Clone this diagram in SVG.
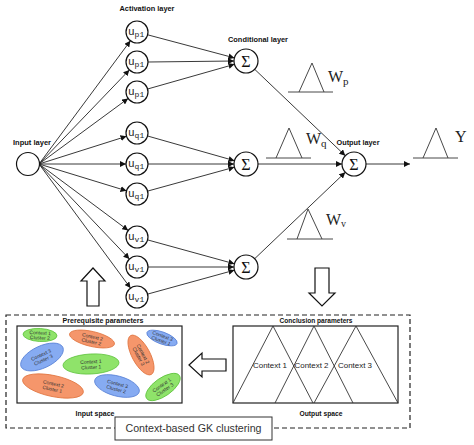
<svg xmlns="http://www.w3.org/2000/svg" width="474" height="445" viewBox="0 0 474 445">
<defs>
<marker id="ah" markerUnits="userSpaceOnUse" markerWidth="7" markerHeight="6" refX="6" refY="3" orient="auto">
<path d="M0,0 L6,3 L0,6 Z" fill="#111"/>
</marker>
<style>
.nd{fill:#fff;stroke:#111;stroke-width:1.2}
.cn{stroke:#222;stroke-width:0.9;fill:none}
.lbl{font-family:"Liberation Sans",Arial,sans-serif;font-weight:bold;font-size:7.5px;fill:#111}
.ctx{font-family:"Liberation Sans",Arial,sans-serif;font-size:7.5px;fill:#222}
.u{font-family:"Liberation Mono","DejaVu Sans Mono",monospace;font-size:11px;fill:#222}
.us{font-size:8px}
.sig{font-family:"Liberation Serif","DejaVu Serif",serif;font-size:16px;fill:#111}
.w{font-family:"Liberation Serif","DejaVu Serif",serif;font-size:16px;fill:#222}
.tri{fill:none;stroke:#333;stroke-width:0.9}
.blk{fill:#fff;stroke:#111;stroke-width:1.2}
.eg{fill:#8fe36a;stroke:#5cc23a;stroke-width:0.8}
.eo{fill:#f5966b;stroke:#e0743f;stroke-width:0.8}
.eb{fill:#86abf2;stroke:#5a82d6;stroke-width:0.8}
.et{font-family:"Liberation Sans",Arial,sans-serif;font-size:5px;fill:#333;text-anchor:middle}
</style>
</defs>
<rect width="474" height="445" fill="#fff"/>

<!-- connectors -->
<g id="connectors" class="cn">
<line x1="39" y1="164" x2="130.4" y2="40.8" marker-end="url(#ah)"/>
<line x1="39" y1="164" x2="129.4" y2="69.9" marker-end="url(#ah)"/>
<line x1="39" y1="164" x2="128.1" y2="98.5" marker-end="url(#ah)"/>
<line x1="39" y1="164" x2="126.5" y2="136.3" marker-end="url(#ah)"/>
<line x1="39" y1="164" x2="126" y2="164" marker-end="url(#ah)"/>
<line x1="39" y1="164" x2="126.5" y2="190.8" marker-end="url(#ah)"/>
<line x1="39" y1="164" x2="128.2" y2="230.4" marker-end="url(#ah)"/>
<line x1="39" y1="164" x2="129.4" y2="259" marker-end="url(#ah)"/>
<line x1="39" y1="164" x2="130.5" y2="288.1" marker-end="url(#ah)"/>
<line x1="147.6" y1="34.8" x2="234.4" y2="57.9" marker-end="url(#ah)"/>
<line x1="148" y1="62" x2="234" y2="61" marker-end="url(#ah)"/>
<line x1="147.6" y1="89" x2="234.5" y2="64.3" marker-end="url(#ah)"/>
<line x1="147.6" y1="136" x2="234.5" y2="160.7" marker-end="url(#ah)"/>
<line x1="148" y1="164" x2="234" y2="164" marker-end="url(#ah)"/>
<line x1="147.6" y1="191.1" x2="234.4" y2="167.2" marker-end="url(#ah)"/>
<line x1="147.6" y1="239.9" x2="234.4" y2="263.8" marker-end="url(#ah)"/>
<line x1="148" y1="267" x2="234" y2="267" marker-end="url(#ah)"/>
<line x1="147.6" y1="294.1" x2="234.4" y2="270.2" marker-end="url(#ah)"/>
<line x1="254.7" y1="69.3" x2="345.3" y2="155.7" marker-end="url(#ah)"/>
<line x1="258" y1="164" x2="342" y2="164" marker-end="url(#ah)"/>
<line x1="254.7" y1="258.7" x2="345.3" y2="172.3" marker-end="url(#ah)"/>
<line x1="366" y1="164" x2="410" y2="164" marker-end="url(#ah)"/>
</g>

<!-- input layer -->
<g id="input">
<circle class="nd" cx="28" cy="164" r="11.5"/>
<text class="lbl" x="32" y="145" text-anchor="middle" textLength="38" lengthAdjust="spacingAndGlyphs">Input layer</text>
</g>

<!-- activation layer -->
<g id="activation-label"><text class="lbl" x="147" y="11" text-anchor="middle" textLength="55" lengthAdjust="spacingAndGlyphs">Activation layer</text></g>
<g id="up1a"><circle class="nd" cx="137" cy="32" r="11"/><text class="u" x="128" y="35">u<tspan class="us" dy="2">p1</tspan></text></g>
<g id="up1b"><circle class="nd" cx="137" cy="62" r="11"/><text class="u" x="128" y="65">u<tspan class="us" dy="2">p1</tspan></text></g>
<g id="up1c"><circle class="nd" cx="137" cy="92" r="11"/><text class="u" x="128" y="95">u<tspan class="us" dy="2">p1</tspan></text></g>
<g id="uq1a"><circle class="nd" cx="137" cy="133" r="11"/><text class="u" x="128" y="136">u<tspan class="us" dy="2">q1</tspan></text></g>
<g id="uq1b"><circle class="nd" cx="137" cy="164" r="11"/><text class="u" x="128" y="167">u<tspan class="us" dy="2">q1</tspan></text></g>
<g id="uq1c"><circle class="nd" cx="137" cy="194" r="11"/><text class="u" x="128" y="197">u<tspan class="us" dy="2">q1</tspan></text></g>
<g id="uv1a"><circle class="nd" cx="137" cy="237" r="11"/><text class="u" x="128" y="240">u<tspan class="us" dy="2">v1</tspan></text></g>
<g id="uv1b"><circle class="nd" cx="137" cy="267" r="11"/><text class="u" x="128" y="270">u<tspan class="us" dy="2">v1</tspan></text></g>
<g id="uv1c"><circle class="nd" cx="137" cy="297" r="11"/><text class="u" x="128" y="300">u<tspan class="us" dy="2">v1</tspan></text></g>

<!-- conditional layer -->
<g id="conditional-label"><text class="lbl" x="258" y="42" text-anchor="middle" textLength="60" lengthAdjust="spacingAndGlyphs">Conditional layer</text></g>
<g id="sum-p"><circle class="nd" cx="246" cy="61" r="12"/><text class="sig" x="246" y="67" text-anchor="middle">Σ</text></g>
<g id="sum-q"><circle class="nd" cx="246" cy="164" r="12"/><text class="sig" x="246" y="170" text-anchor="middle">Σ</text></g>
<g id="sum-v"><circle class="nd" cx="246" cy="267" r="12"/><text class="sig" x="246" y="273" text-anchor="middle">Σ</text></g>

<!-- output layer -->
<g id="output">
<text class="lbl" x="358" y="145" text-anchor="middle" textLength="43" lengthAdjust="spacingAndGlyphs">Output layer</text>
<circle class="nd" cx="354" cy="164" r="12"/><text class="sig" x="354" y="170" text-anchor="middle">Σ</text>
</g>

<!-- weights -->
<g id="wp">
<path class="tri" d="M288,92 H333 M299,92 L312,63 L324,92"/>
<text class="w" x="328" y="82">W<tspan font-size="11" dy="3">p</tspan></text>
</g>
<g id="wq">
<path class="tri" d="M266,158 H311 M276,158 L289,128 L302,158"/>
<text class="w" x="306" y="144">W<tspan font-size="11" dy="3">q</tspan></text>
</g>
<g id="wv">
<path class="tri" d="M287,239 H333 M297,239 L308,209 L322,239"/>
<text class="w" x="326" y="225">W<tspan font-size="10" dy="2">v</tspan></text>
</g>
<g id="y">
<path class="tri" d="M413,158 H458 M423,158 L436,128 L448,158"/>
<text class="w" x="455" y="142" font-size="15">Y</text>
</g>

<!-- block arrows -->
<g id="arrow-up"><polygon class="blk" points="87,306 87,281 81,281 93,268 105,281 99,281 99,306"/></g>
<g id="arrow-down"><polygon class="blk" points="315,268 329,268 329,293 335,293 322,306 309,293 315,293"/></g>
<g id="arrow-left"><polygon class="blk" points="189,365 202,353 202,359 226,359 226,371 202,371 202,377"/></g>

<!-- clustering frame -->
<g id="frame">
<rect x="6" y="315" width="404" height="113" fill="none" stroke="#222" stroke-width="1.2" stroke-dasharray="5,3"/>
</g>

<!-- prerequisite parameters -->
<g id="prerequisite">
<text class="lbl" x="103" y="323" text-anchor="middle" textLength="81" lengthAdjust="spacingAndGlyphs">Prerequisite parameters</text>
<rect x="17" y="326" width="165" height="77" fill="#fff" stroke="#222" stroke-width="1.2"/>
<g transform="translate(40,335) rotate(3)"><ellipse class="eg" rx="17" ry="6.5"/><text class="et" y="-0.5">Context 1</text><text class="et" y="4.5">Cluster 2</text></g>
<g transform="translate(92,339) rotate(13)"><ellipse class="eo" rx="23" ry="7.5"/><text class="et" y="-0.5">Context 2</text><text class="et" y="4.5">Cluster 2</text></g>
<g transform="translate(141,355) rotate(62)"><ellipse class="eo" rx="22" ry="9"/><text class="et" y="-0.5">Context 2</text><text class="et" y="4.5">Cluster 3</text></g>
<g transform="translate(162,338) rotate(20)"><ellipse class="eb" rx="16" ry="6"/><text class="et" y="-0.5">Context 3</text><text class="et" y="4.5">Cluster 1</text></g>
<g transform="translate(42,357) rotate(-25)"><ellipse class="eb" rx="23" ry="11"/><text class="et" y="-0.5">Context 3</text><text class="et" y="5">Cluster 3</text></g>
<g transform="translate(91,364) rotate(-3)"><ellipse class="eg" rx="28" ry="10"/><text class="et" y="-0.5">Context 1</text><text class="et" y="5">Cluster 1</text></g>
<g transform="translate(53,386) rotate(12)"><ellipse class="eo" rx="31" ry="10.5"/><text class="et" y="-0.5">Context 2</text><text class="et" y="5">Cluster 1</text></g>
<g transform="translate(117,386) rotate(15)"><ellipse class="eb" rx="23" ry="10"/><text class="et" y="-0.5">Context 3</text><text class="et" y="5">Cluster 2</text></g>
<g transform="translate(163,387) rotate(-35)"><ellipse class="eg" rx="20" ry="9"/><text class="et" y="-0.5">Context 1</text><text class="et" y="5">Cluster 3</text></g>
<text class="lbl" x="95" y="416" text-anchor="middle" textLength="39" lengthAdjust="spacingAndGlyphs">Input space</text>
</g>

<!-- conclusion parameters -->
<g id="conclusion">
<text class="lbl" x="316" y="323" text-anchor="middle" textLength="73" lengthAdjust="spacingAndGlyphs">Conclusion parameters</text>
<rect x="233" y="326" width="165" height="77" fill="#fff" stroke="#222" stroke-width="1.2"/>
<path class="tri" d="M233,403 L273,326 L313,403 M275,403 L314,326 L353,403 M314,403 L356,326 L398,403"/>
<text class="ctx" x="270" y="368" text-anchor="middle" textLength="34" lengthAdjust="spacingAndGlyphs">Context 1</text>
<text class="ctx" x="311.5" y="368" text-anchor="middle" textLength="34" lengthAdjust="spacingAndGlyphs">Context 2</text>
<text class="ctx" x="355" y="368" text-anchor="middle" textLength="34" lengthAdjust="spacingAndGlyphs">Context 3</text>
<text class="lbl" x="321" y="416" text-anchor="middle" textLength="43" lengthAdjust="spacingAndGlyphs">Output space</text>
</g>

<!-- GK clustering title -->
<g id="gk-title">
<rect x="115" y="417" width="157" height="23" fill="#fff" stroke="#333" stroke-width="1"/>
<text x="193.5" y="432" text-anchor="middle" font-family="'Liberation Sans',Arial,sans-serif" font-size="11" fill="#333" textLength="136" lengthAdjust="spacingAndGlyphs">Context-based GK clustering</text>
</g>
</svg>
